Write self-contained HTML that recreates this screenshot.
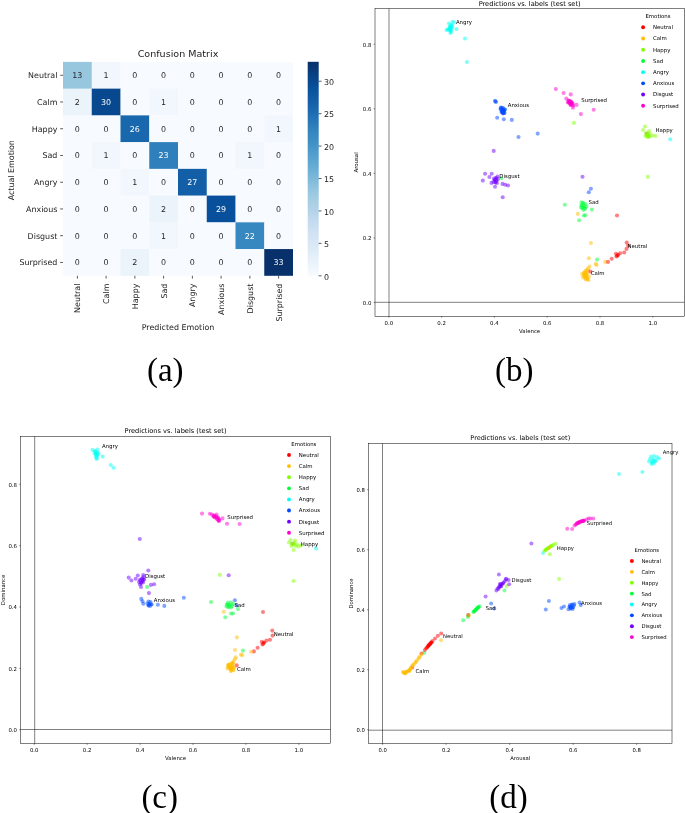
<!DOCTYPE html>
<html><head><meta charset="utf-8"><title>Figure</title>
<style>
html,body{margin:0;padding:0;background:#fff;}
body{width:685px;height:813px;overflow:hidden;}
svg{display:block;}
svg text{font-family:'DejaVu Sans', 'Liberation Sans', sans-serif;}
</style></head><body>
<svg width="685" height="813" viewBox="0 0 685 813">
<rect width="685" height="813" fill="#fff"/>
<g id="cm">
<rect x="63" y="61.9" width="29.05" height="27.04" fill="#97c6df"/>
<rect x="91.75" y="61.9" width="29.05" height="27.04" fill="#f2f7fd"/>
<rect x="120.5" y="61.9" width="29.05" height="27.04" fill="#f7fbff"/>
<rect x="149.25" y="61.9" width="29.05" height="27.04" fill="#f7fbff"/>
<rect x="178" y="61.9" width="29.05" height="27.04" fill="#f7fbff"/>
<rect x="206.75" y="61.9" width="29.05" height="27.04" fill="#f7fbff"/>
<rect x="235.5" y="61.9" width="29.05" height="27.04" fill="#f7fbff"/>
<rect x="264.25" y="61.9" width="28.75" height="27.04" fill="#f7fbff"/>
<rect x="63" y="88.64" width="29.05" height="27.04" fill="#ebf3fb"/>
<rect x="91.75" y="88.64" width="29.05" height="27.04" fill="#08488e"/>
<rect x="120.5" y="88.64" width="29.05" height="27.04" fill="#f7fbff"/>
<rect x="149.25" y="88.64" width="29.05" height="27.04" fill="#f2f7fd"/>
<rect x="178" y="88.64" width="29.05" height="27.04" fill="#f7fbff"/>
<rect x="206.75" y="88.64" width="29.05" height="27.04" fill="#f7fbff"/>
<rect x="235.5" y="88.64" width="29.05" height="27.04" fill="#f7fbff"/>
<rect x="264.25" y="88.64" width="28.75" height="27.04" fill="#f7fbff"/>
<rect x="63" y="115.38" width="29.05" height="27.04" fill="#f7fbff"/>
<rect x="91.75" y="115.38" width="29.05" height="27.04" fill="#f7fbff"/>
<rect x="120.5" y="115.38" width="29.05" height="27.04" fill="#1967ad"/>
<rect x="149.25" y="115.38" width="29.05" height="27.04" fill="#f7fbff"/>
<rect x="178" y="115.38" width="29.05" height="27.04" fill="#f7fbff"/>
<rect x="206.75" y="115.38" width="29.05" height="27.04" fill="#f7fbff"/>
<rect x="235.5" y="115.38" width="29.05" height="27.04" fill="#f7fbff"/>
<rect x="264.25" y="115.38" width="28.75" height="27.04" fill="#f2f7fd"/>
<rect x="63" y="142.11" width="29.05" height="27.04" fill="#f7fbff"/>
<rect x="91.75" y="142.11" width="29.05" height="27.04" fill="#f2f7fd"/>
<rect x="120.5" y="142.11" width="29.05" height="27.04" fill="#f7fbff"/>
<rect x="149.25" y="142.11" width="29.05" height="27.04" fill="#2f7fbc"/>
<rect x="178" y="142.11" width="29.05" height="27.04" fill="#f7fbff"/>
<rect x="206.75" y="142.11" width="29.05" height="27.04" fill="#f7fbff"/>
<rect x="235.5" y="142.11" width="29.05" height="27.04" fill="#f2f7fd"/>
<rect x="264.25" y="142.11" width="28.75" height="27.04" fill="#f7fbff"/>
<rect x="63" y="168.85" width="29.05" height="27.04" fill="#f7fbff"/>
<rect x="91.75" y="168.85" width="29.05" height="27.04" fill="#f7fbff"/>
<rect x="120.5" y="168.85" width="29.05" height="27.04" fill="#f2f7fd"/>
<rect x="149.25" y="168.85" width="29.05" height="27.04" fill="#f7fbff"/>
<rect x="178" y="168.85" width="29.05" height="27.04" fill="#135fa7"/>
<rect x="206.75" y="168.85" width="29.05" height="27.04" fill="#f7fbff"/>
<rect x="235.5" y="168.85" width="29.05" height="27.04" fill="#f7fbff"/>
<rect x="264.25" y="168.85" width="28.75" height="27.04" fill="#f7fbff"/>
<rect x="63" y="195.59" width="29.05" height="27.04" fill="#f7fbff"/>
<rect x="91.75" y="195.59" width="29.05" height="27.04" fill="#f7fbff"/>
<rect x="120.5" y="195.59" width="29.05" height="27.04" fill="#f7fbff"/>
<rect x="149.25" y="195.59" width="29.05" height="27.04" fill="#ebf3fb"/>
<rect x="178" y="195.59" width="29.05" height="27.04" fill="#f7fbff"/>
<rect x="206.75" y="195.59" width="29.05" height="27.04" fill="#08509b"/>
<rect x="235.5" y="195.59" width="29.05" height="27.04" fill="#f7fbff"/>
<rect x="264.25" y="195.59" width="28.75" height="27.04" fill="#f7fbff"/>
<rect x="63" y="222.33" width="29.05" height="27.04" fill="#f7fbff"/>
<rect x="91.75" y="222.33" width="29.05" height="27.04" fill="#f7fbff"/>
<rect x="120.5" y="222.33" width="29.05" height="27.04" fill="#f7fbff"/>
<rect x="149.25" y="222.33" width="29.05" height="27.04" fill="#f2f7fd"/>
<rect x="178" y="222.33" width="29.05" height="27.04" fill="#f7fbff"/>
<rect x="206.75" y="222.33" width="29.05" height="27.04" fill="#f7fbff"/>
<rect x="235.5" y="222.33" width="29.05" height="27.04" fill="#3787c0"/>
<rect x="264.25" y="222.33" width="28.75" height="27.04" fill="#f7fbff"/>
<rect x="63" y="249.06" width="29.05" height="26.74" fill="#f7fbff"/>
<rect x="91.75" y="249.06" width="29.05" height="26.74" fill="#f7fbff"/>
<rect x="120.5" y="249.06" width="29.05" height="26.74" fill="#ebf3fb"/>
<rect x="149.25" y="249.06" width="29.05" height="26.74" fill="#f7fbff"/>
<rect x="178" y="249.06" width="29.05" height="26.74" fill="#f7fbff"/>
<rect x="206.75" y="249.06" width="29.05" height="26.74" fill="#f7fbff"/>
<rect x="235.5" y="249.06" width="29.05" height="26.74" fill="#f7fbff"/>
<rect x="264.25" y="249.06" width="28.75" height="26.74" fill="#08306b"/>
<text x="77.38" y="78.17" fill="#262626" font-size="7.95" text-anchor="middle">13</text>
<text x="106.12" y="78.17" fill="#262626" font-size="7.95" text-anchor="middle">1</text>
<text x="134.88" y="78.17" fill="#262626" font-size="7.95" text-anchor="middle">0</text>
<text x="163.62" y="78.17" fill="#262626" font-size="7.95" text-anchor="middle">0</text>
<text x="192.38" y="78.17" fill="#262626" font-size="7.95" text-anchor="middle">0</text>
<text x="221.12" y="78.17" fill="#262626" font-size="7.95" text-anchor="middle">0</text>
<text x="249.88" y="78.17" fill="#262626" font-size="7.95" text-anchor="middle">0</text>
<text x="278.62" y="78.17" fill="#262626" font-size="7.95" text-anchor="middle">0</text>
<text x="77.38" y="104.91" fill="#262626" font-size="7.95" text-anchor="middle">2</text>
<text x="106.12" y="104.91" fill="#ffffff" font-size="7.95" text-anchor="middle">30</text>
<text x="134.88" y="104.91" fill="#262626" font-size="7.95" text-anchor="middle">0</text>
<text x="163.62" y="104.91" fill="#262626" font-size="7.95" text-anchor="middle">1</text>
<text x="192.38" y="104.91" fill="#262626" font-size="7.95" text-anchor="middle">0</text>
<text x="221.12" y="104.91" fill="#262626" font-size="7.95" text-anchor="middle">0</text>
<text x="249.88" y="104.91" fill="#262626" font-size="7.95" text-anchor="middle">0</text>
<text x="278.62" y="104.91" fill="#262626" font-size="7.95" text-anchor="middle">0</text>
<text x="77.38" y="131.64" fill="#262626" font-size="7.95" text-anchor="middle">0</text>
<text x="106.12" y="131.64" fill="#262626" font-size="7.95" text-anchor="middle">0</text>
<text x="134.88" y="131.64" fill="#ffffff" font-size="7.95" text-anchor="middle">26</text>
<text x="163.62" y="131.64" fill="#262626" font-size="7.95" text-anchor="middle">0</text>
<text x="192.38" y="131.64" fill="#262626" font-size="7.95" text-anchor="middle">0</text>
<text x="221.12" y="131.64" fill="#262626" font-size="7.95" text-anchor="middle">0</text>
<text x="249.88" y="131.64" fill="#262626" font-size="7.95" text-anchor="middle">0</text>
<text x="278.62" y="131.64" fill="#262626" font-size="7.95" text-anchor="middle">1</text>
<text x="77.38" y="158.38" fill="#262626" font-size="7.95" text-anchor="middle">0</text>
<text x="106.12" y="158.38" fill="#262626" font-size="7.95" text-anchor="middle">1</text>
<text x="134.88" y="158.38" fill="#262626" font-size="7.95" text-anchor="middle">0</text>
<text x="163.62" y="158.38" fill="#ffffff" font-size="7.95" text-anchor="middle">23</text>
<text x="192.38" y="158.38" fill="#262626" font-size="7.95" text-anchor="middle">0</text>
<text x="221.12" y="158.38" fill="#262626" font-size="7.95" text-anchor="middle">0</text>
<text x="249.88" y="158.38" fill="#262626" font-size="7.95" text-anchor="middle">1</text>
<text x="278.62" y="158.38" fill="#262626" font-size="7.95" text-anchor="middle">0</text>
<text x="77.38" y="185.12" fill="#262626" font-size="7.95" text-anchor="middle">0</text>
<text x="106.12" y="185.12" fill="#262626" font-size="7.95" text-anchor="middle">0</text>
<text x="134.88" y="185.12" fill="#262626" font-size="7.95" text-anchor="middle">1</text>
<text x="163.62" y="185.12" fill="#262626" font-size="7.95" text-anchor="middle">0</text>
<text x="192.38" y="185.12" fill="#ffffff" font-size="7.95" text-anchor="middle">27</text>
<text x="221.12" y="185.12" fill="#262626" font-size="7.95" text-anchor="middle">0</text>
<text x="249.88" y="185.12" fill="#262626" font-size="7.95" text-anchor="middle">0</text>
<text x="278.62" y="185.12" fill="#262626" font-size="7.95" text-anchor="middle">0</text>
<text x="77.38" y="211.86" fill="#262626" font-size="7.95" text-anchor="middle">0</text>
<text x="106.12" y="211.86" fill="#262626" font-size="7.95" text-anchor="middle">0</text>
<text x="134.88" y="211.86" fill="#262626" font-size="7.95" text-anchor="middle">0</text>
<text x="163.62" y="211.86" fill="#262626" font-size="7.95" text-anchor="middle">2</text>
<text x="192.38" y="211.86" fill="#262626" font-size="7.95" text-anchor="middle">0</text>
<text x="221.12" y="211.86" fill="#ffffff" font-size="7.95" text-anchor="middle">29</text>
<text x="249.88" y="211.86" fill="#262626" font-size="7.95" text-anchor="middle">0</text>
<text x="278.62" y="211.86" fill="#262626" font-size="7.95" text-anchor="middle">0</text>
<text x="77.38" y="238.59" fill="#262626" font-size="7.95" text-anchor="middle">0</text>
<text x="106.12" y="238.59" fill="#262626" font-size="7.95" text-anchor="middle">0</text>
<text x="134.88" y="238.59" fill="#262626" font-size="7.95" text-anchor="middle">0</text>
<text x="163.62" y="238.59" fill="#262626" font-size="7.95" text-anchor="middle">1</text>
<text x="192.38" y="238.59" fill="#262626" font-size="7.95" text-anchor="middle">0</text>
<text x="221.12" y="238.59" fill="#262626" font-size="7.95" text-anchor="middle">0</text>
<text x="249.88" y="238.59" fill="#ffffff" font-size="7.95" text-anchor="middle">22</text>
<text x="278.62" y="238.59" fill="#262626" font-size="7.95" text-anchor="middle">0</text>
<text x="77.38" y="265.33" fill="#262626" font-size="7.95" text-anchor="middle">0</text>
<text x="106.12" y="265.33" fill="#262626" font-size="7.95" text-anchor="middle">0</text>
<text x="134.88" y="265.33" fill="#262626" font-size="7.95" text-anchor="middle">2</text>
<text x="163.62" y="265.33" fill="#262626" font-size="7.95" text-anchor="middle">0</text>
<text x="192.38" y="265.33" fill="#262626" font-size="7.95" text-anchor="middle">0</text>
<text x="221.12" y="265.33" fill="#262626" font-size="7.95" text-anchor="middle">0</text>
<text x="249.88" y="265.33" fill="#262626" font-size="7.95" text-anchor="middle">0</text>
<text x="278.62" y="265.33" fill="#ffffff" font-size="7.95" text-anchor="middle">33</text>
<line x1="60.2" y1="75.27" x2="63" y2="75.27" stroke="#000" stroke-width="0.65"/>
<text x="57.4" y="78.17" fill="#1a1a1a" font-size="7.95" text-anchor="end">Neutral</text>
<line x1="60.2" y1="102.01" x2="63" y2="102.01" stroke="#000" stroke-width="0.65"/>
<text x="57.4" y="104.91" fill="#1a1a1a" font-size="7.95" text-anchor="end">Calm</text>
<line x1="60.2" y1="128.74" x2="63" y2="128.74" stroke="#000" stroke-width="0.65"/>
<text x="57.4" y="131.64" fill="#1a1a1a" font-size="7.95" text-anchor="end">Happy</text>
<line x1="60.2" y1="155.48" x2="63" y2="155.48" stroke="#000" stroke-width="0.65"/>
<text x="57.4" y="158.38" fill="#1a1a1a" font-size="7.95" text-anchor="end">Sad</text>
<line x1="60.2" y1="182.22" x2="63" y2="182.22" stroke="#000" stroke-width="0.65"/>
<text x="57.4" y="185.12" fill="#1a1a1a" font-size="7.95" text-anchor="end">Angry</text>
<line x1="60.2" y1="208.96" x2="63" y2="208.96" stroke="#000" stroke-width="0.65"/>
<text x="57.4" y="211.86" fill="#1a1a1a" font-size="7.95" text-anchor="end">Anxious</text>
<line x1="60.2" y1="235.69" x2="63" y2="235.69" stroke="#000" stroke-width="0.65"/>
<text x="57.4" y="238.59" fill="#1a1a1a" font-size="7.95" text-anchor="end">Disgust</text>
<line x1="60.2" y1="262.43" x2="63" y2="262.43" stroke="#000" stroke-width="0.65"/>
<text x="57.4" y="265.33" fill="#1a1a1a" font-size="7.95" text-anchor="end">Surprised</text>
<line x1="77.38" y1="275.8" x2="77.38" y2="278.6" stroke="#000" stroke-width="0.65"/>
<text transform="translate(80.28,283.6) rotate(-90)" x="0" y="0" fill="#1a1a1a" font-size="7.95" text-anchor="end">Neutral</text>
<line x1="106.12" y1="275.8" x2="106.12" y2="278.6" stroke="#000" stroke-width="0.65"/>
<text transform="translate(109.03,283.6) rotate(-90)" x="0" y="0" fill="#1a1a1a" font-size="7.95" text-anchor="end">Calm</text>
<line x1="134.88" y1="275.8" x2="134.88" y2="278.6" stroke="#000" stroke-width="0.65"/>
<text transform="translate(137.78,283.6) rotate(-90)" x="0" y="0" fill="#1a1a1a" font-size="7.95" text-anchor="end">Happy</text>
<line x1="163.62" y1="275.8" x2="163.62" y2="278.6" stroke="#000" stroke-width="0.65"/>
<text transform="translate(166.53,283.6) rotate(-90)" x="0" y="0" fill="#1a1a1a" font-size="7.95" text-anchor="end">Sad</text>
<line x1="192.38" y1="275.8" x2="192.38" y2="278.6" stroke="#000" stroke-width="0.65"/>
<text transform="translate(195.28,283.6) rotate(-90)" x="0" y="0" fill="#1a1a1a" font-size="7.95" text-anchor="end">Angry</text>
<line x1="221.12" y1="275.8" x2="221.12" y2="278.6" stroke="#000" stroke-width="0.65"/>
<text transform="translate(224.03,283.6) rotate(-90)" x="0" y="0" fill="#1a1a1a" font-size="7.95" text-anchor="end">Anxious</text>
<line x1="249.88" y1="275.8" x2="249.88" y2="278.6" stroke="#000" stroke-width="0.65"/>
<text transform="translate(252.78,283.6) rotate(-90)" x="0" y="0" fill="#1a1a1a" font-size="7.95" text-anchor="end">Disgust</text>
<line x1="278.62" y1="275.8" x2="278.62" y2="278.6" stroke="#000" stroke-width="0.65"/>
<text transform="translate(281.52,283.6) rotate(-90)" x="0" y="0" fill="#1a1a1a" font-size="7.95" text-anchor="end">Surprised</text>
<text x="178" y="56.9" fill="#1a1a1a" font-size="9.55" text-anchor="middle">Confusion Matrix</text>
<text x="178" y="329.9" fill="#1a1a1a" font-size="7.95" text-anchor="middle">Predicted Emotion</text>
<text transform="translate(13.9,170.2) rotate(-90)" fill="#1a1a1a" font-size="7.95" text-anchor="middle">Actual Emotion</text>
<defs><linearGradient id="cb" x1="0" y1="0" x2="0" y2="1"><stop offset="0" stop-color="#08306b"/><stop offset="0.06" stop-color="#084082"/><stop offset="0.12" stop-color="#08509b"/><stop offset="0.19" stop-color="#1460a8"/><stop offset="0.25" stop-color="#2070b4"/><stop offset="0.31" stop-color="#3181bd"/><stop offset="0.38" stop-color="#4191c6"/><stop offset="0.44" stop-color="#56a0ce"/><stop offset="0.5" stop-color="#6aaed6"/><stop offset="0.56" stop-color="#84bcdb"/><stop offset="0.62" stop-color="#9dcae1"/><stop offset="0.69" stop-color="#b2d2e8"/><stop offset="0.75" stop-color="#c6dbef"/><stop offset="0.81" stop-color="#d2e3f3"/><stop offset="0.88" stop-color="#deebf7"/><stop offset="0.94" stop-color="#eaf3fb"/><stop offset="1" stop-color="#f7fbff"/></linearGradient></defs>
<rect x="307.7" y="61.8" width="11" height="214" fill="url(#cb)"/>
<line x1="318.7" y1="275.8" x2="321.5" y2="275.8" stroke="#000" stroke-width="0.65"/>
<text x="323.9" y="279.5" fill="#1a1a1a" font-size="7.95">0</text>
<line x1="318.7" y1="243.38" x2="321.5" y2="243.38" stroke="#000" stroke-width="0.65"/>
<text x="323.9" y="247.08" fill="#1a1a1a" font-size="7.95">5</text>
<line x1="318.7" y1="210.95" x2="321.5" y2="210.95" stroke="#000" stroke-width="0.65"/>
<text x="323.9" y="214.65" fill="#1a1a1a" font-size="7.95">10</text>
<line x1="318.7" y1="178.53" x2="321.5" y2="178.53" stroke="#000" stroke-width="0.65"/>
<text x="323.9" y="182.23" fill="#1a1a1a" font-size="7.95">15</text>
<line x1="318.7" y1="146.1" x2="321.5" y2="146.1" stroke="#000" stroke-width="0.65"/>
<text x="323.9" y="149.8" fill="#1a1a1a" font-size="7.95">20</text>
<line x1="318.7" y1="113.68" x2="321.5" y2="113.68" stroke="#000" stroke-width="0.65"/>
<text x="323.9" y="117.38" fill="#1a1a1a" font-size="7.95">25</text>
<line x1="318.7" y1="81.25" x2="321.5" y2="81.25" stroke="#000" stroke-width="0.65"/>
<text x="323.9" y="84.95" fill="#1a1a1a" font-size="7.95">30</text>
</g>
<g>
<line x1="389" y1="8.5" x2="389" y2="316.3" stroke="#000" stroke-width="0.5"/>
<line x1="375" y1="302.3" x2="684.3" y2="302.3" stroke="#000" stroke-width="0.5"/>
<circle cx="452.5" cy="21.8" r="2.05" fill="#00fff6" fill-opacity="0.5"/>
<circle cx="454" cy="22.5" r="2.05" fill="#00fff6" fill-opacity="0.5"/>
<circle cx="449" cy="23.5" r="2.05" fill="#00fff6" fill-opacity="0.5"/>
<circle cx="451" cy="25" r="2.05" fill="#00fff6" fill-opacity="0.5"/>
<circle cx="449.5" cy="27" r="2.05" fill="#00fff6" fill-opacity="0.5"/>
<circle cx="451.5" cy="28" r="2.05" fill="#00fff6" fill-opacity="0.5"/>
<circle cx="448" cy="29.5" r="2.05" fill="#00fff6" fill-opacity="0.5"/>
<circle cx="446.5" cy="30" r="2.05" fill="#00fff6" fill-opacity="0.5"/>
<circle cx="450" cy="30.5" r="2.05" fill="#00fff6" fill-opacity="0.5"/>
<circle cx="451" cy="32" r="2.05" fill="#00fff6" fill-opacity="0.5"/>
<circle cx="450.5" cy="33" r="2.05" fill="#00fff6" fill-opacity="0.5"/>
<circle cx="452" cy="26" r="2.05" fill="#00fff6" fill-opacity="0.5"/>
<circle cx="449.5" cy="29" r="2.05" fill="#00fff6" fill-opacity="0.5"/>
<circle cx="450.5" cy="28" r="2.05" fill="#00fff6" fill-opacity="0.5"/>
<circle cx="451" cy="30" r="2.05" fill="#00fff6" fill-opacity="0.5"/>
<circle cx="456.5" cy="29.1" r="2.05" fill="#00fff6" fill-opacity="0.5"/>
<circle cx="465" cy="38.5" r="2.05" fill="#00fff6" fill-opacity="0.5"/>
<circle cx="466.9" cy="62.1" r="2.05" fill="#00fff6" fill-opacity="0.5"/>
<circle cx="451" cy="25" r="1.64" fill="#00fff6" fill-opacity="0.5"/>
<circle cx="449.5" cy="27" r="1.64" fill="#00fff6" fill-opacity="0.5"/>
<circle cx="451.5" cy="28" r="1.64" fill="#00fff6" fill-opacity="0.5"/>
<circle cx="448" cy="29.5" r="1.64" fill="#00fff6" fill-opacity="0.5"/>
<circle cx="450" cy="30.5" r="1.64" fill="#00fff6" fill-opacity="0.5"/>
<circle cx="452" cy="26" r="1.64" fill="#00fff6" fill-opacity="0.5"/>
<circle cx="449.5" cy="29" r="1.64" fill="#00fff6" fill-opacity="0.5"/>
<circle cx="450.5" cy="28" r="1.64" fill="#00fff6" fill-opacity="0.5"/>
<circle cx="451" cy="30" r="1.64" fill="#00fff6" fill-opacity="0.5"/>
<circle cx="495" cy="100.8" r="2.05" fill="#004bff" fill-opacity="0.5"/>
<circle cx="496" cy="102" r="2.05" fill="#004bff" fill-opacity="0.5"/>
<circle cx="501" cy="107.5" r="2.05" fill="#004bff" fill-opacity="0.5"/>
<circle cx="503" cy="108" r="2.05" fill="#004bff" fill-opacity="0.5"/>
<circle cx="505" cy="109.5" r="2.05" fill="#004bff" fill-opacity="0.5"/>
<circle cx="502" cy="110.5" r="2.05" fill="#004bff" fill-opacity="0.5"/>
<circle cx="504" cy="111" r="2.05" fill="#004bff" fill-opacity="0.5"/>
<circle cx="503" cy="112.5" r="2.05" fill="#004bff" fill-opacity="0.5"/>
<circle cx="501.5" cy="112" r="2.05" fill="#004bff" fill-opacity="0.5"/>
<circle cx="504.5" cy="113" r="2.05" fill="#004bff" fill-opacity="0.5"/>
<circle cx="503" cy="113.5" r="2.05" fill="#004bff" fill-opacity="0.5"/>
<circle cx="500.5" cy="109" r="2.05" fill="#004bff" fill-opacity="0.5"/>
<circle cx="502.5" cy="109.5" r="2.05" fill="#004bff" fill-opacity="0.5"/>
<circle cx="503.5" cy="110.5" r="2.05" fill="#004bff" fill-opacity="0.5"/>
<circle cx="502.5" cy="111.5" r="2.05" fill="#004bff" fill-opacity="0.5"/>
<circle cx="495.5" cy="101.5" r="2.05" fill="#004bff" fill-opacity="0.5"/>
<circle cx="497.2" cy="117.7" r="2.05" fill="#004bff" fill-opacity="0.5"/>
<circle cx="503.8" cy="119.2" r="2.05" fill="#004bff" fill-opacity="0.5"/>
<circle cx="511.8" cy="119.9" r="2.05" fill="#004bff" fill-opacity="0.5"/>
<circle cx="518.5" cy="137" r="2.05" fill="#004bff" fill-opacity="0.5"/>
<circle cx="537.7" cy="133.6" r="2.05" fill="#004bff" fill-opacity="0.5"/>
<circle cx="501" cy="107.5" r="1.64" fill="#004bff" fill-opacity="0.5"/>
<circle cx="503" cy="108" r="1.64" fill="#004bff" fill-opacity="0.5"/>
<circle cx="505" cy="109.5" r="1.64" fill="#004bff" fill-opacity="0.5"/>
<circle cx="502" cy="110.5" r="1.64" fill="#004bff" fill-opacity="0.5"/>
<circle cx="504" cy="111" r="1.64" fill="#004bff" fill-opacity="0.5"/>
<circle cx="503" cy="112.5" r="1.64" fill="#004bff" fill-opacity="0.5"/>
<circle cx="501.5" cy="112" r="1.64" fill="#004bff" fill-opacity="0.5"/>
<circle cx="504.5" cy="113" r="1.64" fill="#004bff" fill-opacity="0.5"/>
<circle cx="503" cy="113.5" r="1.64" fill="#004bff" fill-opacity="0.5"/>
<circle cx="500.5" cy="109" r="1.64" fill="#004bff" fill-opacity="0.5"/>
<circle cx="502.5" cy="109.5" r="1.64" fill="#004bff" fill-opacity="0.5"/>
<circle cx="503.5" cy="110.5" r="1.64" fill="#004bff" fill-opacity="0.5"/>
<circle cx="502.5" cy="111.5" r="1.64" fill="#004bff" fill-opacity="0.5"/>
<circle cx="555.8" cy="89" r="2.05" fill="#ff00cf" fill-opacity="0.5"/>
<circle cx="563.6" cy="93" r="2.05" fill="#ff00cf" fill-opacity="0.5"/>
<circle cx="570.7" cy="94.4" r="2.05" fill="#ff00cf" fill-opacity="0.5"/>
<circle cx="566.3" cy="98.6" r="2.05" fill="#ff00cf" fill-opacity="0.5"/>
<circle cx="576.5" cy="104.9" r="2.05" fill="#ff00cf" fill-opacity="0.5"/>
<circle cx="573" cy="107.8" r="2.05" fill="#ff00cf" fill-opacity="0.5"/>
<circle cx="580.9" cy="114.1" r="2.05" fill="#ff00cf" fill-opacity="0.5"/>
<circle cx="593.7" cy="109.7" r="2.05" fill="#ff00cf" fill-opacity="0.5"/>
<circle cx="568.5" cy="100.5" r="2.05" fill="#ff00cf" fill-opacity="0.5"/>
<circle cx="570" cy="101" r="2.05" fill="#ff00cf" fill-opacity="0.5"/>
<circle cx="571.5" cy="102" r="2.05" fill="#ff00cf" fill-opacity="0.5"/>
<circle cx="569.5" cy="103" r="2.05" fill="#ff00cf" fill-opacity="0.5"/>
<circle cx="571" cy="104" r="2.05" fill="#ff00cf" fill-opacity="0.5"/>
<circle cx="572.5" cy="103.5" r="2.05" fill="#ff00cf" fill-opacity="0.5"/>
<circle cx="570.5" cy="105" r="2.05" fill="#ff00cf" fill-opacity="0.5"/>
<circle cx="568" cy="102.5" r="2.05" fill="#ff00cf" fill-opacity="0.5"/>
<circle cx="573" cy="105.5" r="2.05" fill="#ff00cf" fill-opacity="0.5"/>
<circle cx="570" cy="102.5" r="2.05" fill="#ff00cf" fill-opacity="0.5"/>
<circle cx="571" cy="103" r="2.05" fill="#ff00cf" fill-opacity="0.5"/>
<circle cx="569.5" cy="101.5" r="2.05" fill="#ff00cf" fill-opacity="0.5"/>
<circle cx="646.7" cy="133.7" r="2.05" fill="#ff00cf" fill-opacity="0.5"/>
<circle cx="568.5" cy="100.5" r="1.64" fill="#ff00cf" fill-opacity="0.5"/>
<circle cx="570" cy="101" r="1.64" fill="#ff00cf" fill-opacity="0.5"/>
<circle cx="571.5" cy="102" r="1.64" fill="#ff00cf" fill-opacity="0.5"/>
<circle cx="569.5" cy="103" r="1.64" fill="#ff00cf" fill-opacity="0.5"/>
<circle cx="571" cy="104" r="1.64" fill="#ff00cf" fill-opacity="0.5"/>
<circle cx="572.5" cy="103.5" r="1.64" fill="#ff00cf" fill-opacity="0.5"/>
<circle cx="570.5" cy="105" r="1.64" fill="#ff00cf" fill-opacity="0.5"/>
<circle cx="568" cy="102.5" r="1.64" fill="#ff00cf" fill-opacity="0.5"/>
<circle cx="573" cy="105.5" r="1.64" fill="#ff00cf" fill-opacity="0.5"/>
<circle cx="570" cy="102.5" r="1.64" fill="#ff00cf" fill-opacity="0.5"/>
<circle cx="571" cy="103" r="1.64" fill="#ff00cf" fill-opacity="0.5"/>
<circle cx="569.5" cy="101.5" r="1.64" fill="#ff00cf" fill-opacity="0.5"/>
<circle cx="645" cy="126.5" r="2.05" fill="#84ff00" fill-opacity="0.5"/>
<circle cx="643" cy="130" r="2.05" fill="#84ff00" fill-opacity="0.5"/>
<circle cx="649" cy="131" r="2.05" fill="#84ff00" fill-opacity="0.5"/>
<circle cx="652.5" cy="135.5" r="2.05" fill="#84ff00" fill-opacity="0.5"/>
<circle cx="655.5" cy="136" r="2.05" fill="#84ff00" fill-opacity="0.5"/>
<circle cx="648" cy="137" r="2.05" fill="#84ff00" fill-opacity="0.5"/>
<circle cx="646" cy="133" r="2.05" fill="#84ff00" fill-opacity="0.5"/>
<circle cx="648" cy="134" r="2.05" fill="#84ff00" fill-opacity="0.5"/>
<circle cx="647" cy="135.5" r="2.05" fill="#84ff00" fill-opacity="0.5"/>
<circle cx="650" cy="133.5" r="2.05" fill="#84ff00" fill-opacity="0.5"/>
<circle cx="645.5" cy="136" r="2.05" fill="#84ff00" fill-opacity="0.5"/>
<circle cx="649.5" cy="136.5" r="2.05" fill="#84ff00" fill-opacity="0.5"/>
<circle cx="647.9" cy="176.9" r="2.05" fill="#84ff00" fill-opacity="0.5"/>
<circle cx="573.9" cy="122.9" r="2.05" fill="#84ff00" fill-opacity="0.5"/>
<circle cx="648" cy="137" r="1.64" fill="#84ff00" fill-opacity="0.5"/>
<circle cx="648" cy="134" r="1.64" fill="#84ff00" fill-opacity="0.5"/>
<circle cx="647" cy="135.5" r="1.64" fill="#84ff00" fill-opacity="0.5"/>
<circle cx="649.5" cy="136.5" r="1.64" fill="#84ff00" fill-opacity="0.5"/>
<circle cx="493.7" cy="150.9" r="2.05" fill="#7200ff" fill-opacity="0.5"/>
<circle cx="485.1" cy="173.7" r="2.05" fill="#7200ff" fill-opacity="0.5"/>
<circle cx="491.7" cy="173.7" r="2.05" fill="#7200ff" fill-opacity="0.5"/>
<circle cx="489.4" cy="177" r="2.05" fill="#7200ff" fill-opacity="0.5"/>
<circle cx="482.8" cy="180.6" r="2.05" fill="#7200ff" fill-opacity="0.5"/>
<circle cx="495" cy="186.7" r="2.05" fill="#7200ff" fill-opacity="0.5"/>
<circle cx="502.5" cy="183.9" r="2.05" fill="#7200ff" fill-opacity="0.5"/>
<circle cx="505.3" cy="184.7" r="2.05" fill="#7200ff" fill-opacity="0.5"/>
<circle cx="508" cy="185.5" r="2.05" fill="#7200ff" fill-opacity="0.5"/>
<circle cx="502.7" cy="197.2" r="2.05" fill="#7200ff" fill-opacity="0.5"/>
<circle cx="491.5" cy="182.9" r="2.05" fill="#7200ff" fill-opacity="0.5"/>
<circle cx="497.5" cy="176.5" r="2.05" fill="#7200ff" fill-opacity="0.5"/>
<circle cx="496" cy="178" r="2.05" fill="#7200ff" fill-opacity="0.5"/>
<circle cx="494.5" cy="180" r="2.05" fill="#7200ff" fill-opacity="0.5"/>
<circle cx="496.5" cy="180.5" r="2.05" fill="#7200ff" fill-opacity="0.5"/>
<circle cx="498" cy="179" r="2.05" fill="#7200ff" fill-opacity="0.5"/>
<circle cx="493.5" cy="182" r="2.05" fill="#7200ff" fill-opacity="0.5"/>
<circle cx="495.5" cy="182.5" r="2.05" fill="#7200ff" fill-opacity="0.5"/>
<circle cx="497" cy="183" r="2.05" fill="#7200ff" fill-opacity="0.5"/>
<circle cx="494" cy="178.5" r="2.05" fill="#7200ff" fill-opacity="0.5"/>
<circle cx="582.5" cy="176.7" r="2.05" fill="#7200ff" fill-opacity="0.5"/>
<circle cx="496" cy="178" r="1.64" fill="#7200ff" fill-opacity="0.5"/>
<circle cx="494.5" cy="180" r="1.64" fill="#7200ff" fill-opacity="0.5"/>
<circle cx="496.5" cy="180.5" r="1.64" fill="#7200ff" fill-opacity="0.5"/>
<circle cx="495.5" cy="182.5" r="1.64" fill="#7200ff" fill-opacity="0.5"/>
<circle cx="583" cy="203" r="2.05" fill="#00ff39" fill-opacity="0.5"/>
<circle cx="585.5" cy="204" r="2.05" fill="#00ff39" fill-opacity="0.5"/>
<circle cx="581.5" cy="205.5" r="2.05" fill="#00ff39" fill-opacity="0.5"/>
<circle cx="584" cy="206" r="2.05" fill="#00ff39" fill-opacity="0.5"/>
<circle cx="586.5" cy="206.5" r="2.05" fill="#00ff39" fill-opacity="0.5"/>
<circle cx="582.5" cy="208" r="2.05" fill="#00ff39" fill-opacity="0.5"/>
<circle cx="585" cy="208.5" r="2.05" fill="#00ff39" fill-opacity="0.5"/>
<circle cx="583.5" cy="210" r="2.05" fill="#00ff39" fill-opacity="0.5"/>
<circle cx="581" cy="207.5" r="2.05" fill="#00ff39" fill-opacity="0.5"/>
<circle cx="564.8" cy="204.7" r="2.05" fill="#00ff39" fill-opacity="0.5"/>
<circle cx="591.9" cy="209.6" r="2.05" fill="#00ff39" fill-opacity="0.5"/>
<circle cx="585.3" cy="215.2" r="2.05" fill="#00ff39" fill-opacity="0.5"/>
<circle cx="584" cy="215.5" r="2.05" fill="#00ff39" fill-opacity="0.5"/>
<circle cx="579.1" cy="220.3" r="2.05" fill="#00ff39" fill-opacity="0.5"/>
<circle cx="581.5" cy="202.4" r="2.05" fill="#00ff39" fill-opacity="0.5"/>
<circle cx="501.2" cy="178.3" r="2.05" fill="#00ff39" fill-opacity="0.5"/>
<circle cx="597.1" cy="259.6" r="2.05" fill="#00ff39" fill-opacity="0.5"/>
<circle cx="583" cy="203" r="1.64" fill="#00ff39" fill-opacity="0.5"/>
<circle cx="581.5" cy="205.5" r="1.64" fill="#00ff39" fill-opacity="0.5"/>
<circle cx="584" cy="206" r="1.64" fill="#00ff39" fill-opacity="0.5"/>
<circle cx="582.5" cy="208" r="1.64" fill="#00ff39" fill-opacity="0.5"/>
<circle cx="585" cy="208.5" r="1.64" fill="#00ff39" fill-opacity="0.5"/>
<circle cx="590.9" cy="243" r="2.05" fill="#ffbd00" fill-opacity="0.5"/>
<circle cx="588.9" cy="258.3" r="2.05" fill="#ffbd00" fill-opacity="0.5"/>
<circle cx="595.8" cy="263.9" r="2.05" fill="#ffbd00" fill-opacity="0.5"/>
<circle cx="596.5" cy="265" r="2.05" fill="#ffbd00" fill-opacity="0.5"/>
<circle cx="605.3" cy="261.9" r="2.05" fill="#ffbd00" fill-opacity="0.5"/>
<circle cx="589.5" cy="266.5" r="2.05" fill="#ffbd00" fill-opacity="0.5"/>
<circle cx="588" cy="268.5" r="2.05" fill="#ffbd00" fill-opacity="0.5"/>
<circle cx="586" cy="270.5" r="2.05" fill="#ffbd00" fill-opacity="0.5"/>
<circle cx="584" cy="272.5" r="2.05" fill="#ffbd00" fill-opacity="0.5"/>
<circle cx="582" cy="274" r="2.05" fill="#ffbd00" fill-opacity="0.5"/>
<circle cx="584" cy="275" r="2.05" fill="#ffbd00" fill-opacity="0.5"/>
<circle cx="586" cy="276" r="2.05" fill="#ffbd00" fill-opacity="0.5"/>
<circle cx="587" cy="278" r="2.05" fill="#ffbd00" fill-opacity="0.5"/>
<circle cx="588.5" cy="280" r="2.05" fill="#ffbd00" fill-opacity="0.5"/>
<circle cx="585.5" cy="279" r="2.05" fill="#ffbd00" fill-opacity="0.5"/>
<circle cx="583" cy="277.5" r="2.05" fill="#ffbd00" fill-opacity="0.5"/>
<circle cx="587" cy="273" r="2.05" fill="#ffbd00" fill-opacity="0.5"/>
<circle cx="589" cy="276.5" r="2.05" fill="#ffbd00" fill-opacity="0.5"/>
<circle cx="577.8" cy="213.9" r="2.05" fill="#ffbd00" fill-opacity="0.5"/>
<circle cx="585" cy="273.5" r="2.05" fill="#ffbd00" fill-opacity="0.5"/>
<circle cx="586.5" cy="275" r="2.05" fill="#ffbd00" fill-opacity="0.5"/>
<circle cx="584.5" cy="276.5" r="2.05" fill="#ffbd00" fill-opacity="0.5"/>
<circle cx="587.5" cy="279.5" r="2.05" fill="#ffbd00" fill-opacity="0.5"/>
<circle cx="588" cy="270" r="2.05" fill="#ffbd00" fill-opacity="0.5"/>
<circle cx="586" cy="270.5" r="1.64" fill="#ffbd00" fill-opacity="0.5"/>
<circle cx="584" cy="272.5" r="1.64" fill="#ffbd00" fill-opacity="0.5"/>
<circle cx="584" cy="275" r="1.64" fill="#ffbd00" fill-opacity="0.5"/>
<circle cx="586" cy="276" r="1.64" fill="#ffbd00" fill-opacity="0.5"/>
<circle cx="587" cy="278" r="1.64" fill="#ffbd00" fill-opacity="0.5"/>
<circle cx="585.5" cy="279" r="1.64" fill="#ffbd00" fill-opacity="0.5"/>
<circle cx="587" cy="273" r="1.64" fill="#ffbd00" fill-opacity="0.5"/>
<circle cx="585" cy="273.5" r="1.64" fill="#ffbd00" fill-opacity="0.5"/>
<circle cx="586.5" cy="275" r="1.64" fill="#ffbd00" fill-opacity="0.5"/>
<circle cx="584.5" cy="276.5" r="1.64" fill="#ffbd00" fill-opacity="0.5"/>
<circle cx="608" cy="261.9" r="2.05" fill="#ff0000" fill-opacity="0.5"/>
<circle cx="611.7" cy="258.8" r="2.05" fill="#ff0000" fill-opacity="0.5"/>
<circle cx="617" cy="255.8" r="2.05" fill="#ff0000" fill-opacity="0.5"/>
<circle cx="616.5" cy="256.5" r="2.05" fill="#ff0000" fill-opacity="0.5"/>
<circle cx="616" cy="253.7" r="2.05" fill="#ff0000" fill-opacity="0.5"/>
<circle cx="618" cy="255" r="2.05" fill="#ff0000" fill-opacity="0.5"/>
<circle cx="620.1" cy="253.2" r="2.05" fill="#ff0000" fill-opacity="0.5"/>
<circle cx="624.2" cy="252.5" r="2.05" fill="#ff0000" fill-opacity="0.5"/>
<circle cx="626.5" cy="248.9" r="2.05" fill="#ff0000" fill-opacity="0.5"/>
<circle cx="626.7" cy="242.5" r="2.05" fill="#ff0000" fill-opacity="0.5"/>
<circle cx="628.2" cy="245.5" r="2.05" fill="#ff0000" fill-opacity="0.5"/>
<circle cx="617" cy="215.5" r="2.05" fill="#ff0000" fill-opacity="0.5"/>
<circle cx="590.4" cy="271.6" r="2.05" fill="#ff0000" fill-opacity="0.5"/>
<circle cx="618" cy="255" r="1.64" fill="#ff0000" fill-opacity="0.5"/>
<circle cx="590.9" cy="188.8" r="2.05" fill="#004bff" fill-opacity="0.5"/>
<circle cx="588.8" cy="192.2" r="2.05" fill="#004bff" fill-opacity="0.5"/>
<circle cx="670.2" cy="139.3" r="2.05" fill="#00fff6" fill-opacity="0.5"/>
<text x="455.9" y="24.4" font-size="5.4" fill="#000000">Angry</text>
<text x="507.7" y="107.3" font-size="5.4" fill="#000000">Anxious</text>
<text x="581.3" y="102.3" font-size="5.4" fill="#000000">Surprised</text>
<text x="655.4" y="132.3" font-size="5.4" fill="#000000">Happy</text>
<text x="499.3" y="177.8" font-size="5.4" fill="#000000">Disgust</text>
<text x="588.5" y="203.7" font-size="5.4" fill="#000000">Sad</text>
<text x="590.7" y="275.2" font-size="5.4" fill="#000000">Calm</text>
<text x="627.5" y="247.5" font-size="5.4" fill="#000000">Neutral</text>
<rect x="375" y="8.5" width="309.3" height="307.8" fill="none" stroke="#000" stroke-width="0.5"/>
<line x1="388.8" y1="316.3" x2="388.8" y2="317.7" stroke="#000" stroke-width="0.45"/>
<text x="388.8" y="324.5" font-size="5.4" fill="#000000" text-anchor="middle">0.0</text>
<line x1="441.6" y1="316.3" x2="441.6" y2="317.7" stroke="#000" stroke-width="0.45"/>
<text x="441.6" y="324.5" font-size="5.4" fill="#000000" text-anchor="middle">0.2</text>
<line x1="494.4" y1="316.3" x2="494.4" y2="317.7" stroke="#000" stroke-width="0.45"/>
<text x="494.4" y="324.5" font-size="5.4" fill="#000000" text-anchor="middle">0.4</text>
<line x1="547.2" y1="316.3" x2="547.2" y2="317.7" stroke="#000" stroke-width="0.45"/>
<text x="547.2" y="324.5" font-size="5.4" fill="#000000" text-anchor="middle">0.6</text>
<line x1="600" y1="316.3" x2="600" y2="317.7" stroke="#000" stroke-width="0.45"/>
<text x="600" y="324.5" font-size="5.4" fill="#000000" text-anchor="middle">0.8</text>
<line x1="652.8" y1="316.3" x2="652.8" y2="317.7" stroke="#000" stroke-width="0.45"/>
<text x="652.8" y="324.5" font-size="5.4" fill="#000000" text-anchor="middle">1.0</text>
<line x1="373.6" y1="302.6" x2="375" y2="302.6" stroke="#000" stroke-width="0.45"/>
<text x="371.4" y="305" font-size="5.4" fill="#000000" text-anchor="end">0.0</text>
<line x1="373.6" y1="238" x2="375" y2="238" stroke="#000" stroke-width="0.45"/>
<text x="371.4" y="240.4" font-size="5.4" fill="#000000" text-anchor="end">0.2</text>
<line x1="373.6" y1="173.4" x2="375" y2="173.4" stroke="#000" stroke-width="0.45"/>
<text x="371.4" y="175.8" font-size="5.4" fill="#000000" text-anchor="end">0.4</text>
<line x1="373.6" y1="108.8" x2="375" y2="108.8" stroke="#000" stroke-width="0.45"/>
<text x="371.4" y="111.2" font-size="5.4" fill="#000000" text-anchor="end">0.6</text>
<line x1="373.6" y1="44.2" x2="375" y2="44.2" stroke="#000" stroke-width="0.45"/>
<text x="371.4" y="46.6" font-size="5.4" fill="#000000" text-anchor="end">0.8</text>
<text x="529.65" y="333" font-size="5.4" fill="#000000" text-anchor="middle">Valence</text>
<text transform="translate(358,162.4) rotate(-90)" font-size="5.4" fill="#000000" text-anchor="middle">Arousal</text>
<text x="529.65" y="5.7" font-size="6.65" fill="#000000" text-anchor="middle">Predictions vs. labels (test set)</text>
<text x="658" y="18.2" font-size="5.4" fill="#000000" text-anchor="middle">Emotions</text>
<circle cx="643.1" cy="27.3" r="1.95" fill="#ff0000"/>
<text x="653" y="29.2" font-size="5.4" fill="#000000">Neutral</text>
<circle cx="643.1" cy="38.51" r="1.95" fill="#ffbd00"/>
<text x="653" y="40.41" font-size="5.4" fill="#000000">Calm</text>
<circle cx="643.1" cy="49.72" r="1.95" fill="#84ff00"/>
<text x="653" y="51.62" font-size="5.4" fill="#000000">Happy</text>
<circle cx="643.1" cy="60.93" r="1.95" fill="#00ff39"/>
<text x="653" y="62.83" font-size="5.4" fill="#000000">Sad</text>
<circle cx="643.1" cy="72.14" r="1.95" fill="#00fff6"/>
<text x="653" y="74.04" font-size="5.4" fill="#000000">Angry</text>
<circle cx="643.1" cy="83.35" r="1.95" fill="#004bff"/>
<text x="653" y="85.25" font-size="5.4" fill="#000000">Anxious</text>
<circle cx="643.1" cy="94.56" r="1.95" fill="#7200ff"/>
<text x="653" y="96.46" font-size="5.4" fill="#000000">Disgust</text>
<circle cx="643.1" cy="105.77" r="1.95" fill="#ff00cf"/>
<text x="653" y="107.67" font-size="5.4" fill="#000000">Surprised</text>
</g>
<g>
<line x1="34.7" y1="436.3" x2="34.7" y2="743.5" stroke="#000" stroke-width="0.5"/>
<line x1="20.6" y1="729.5" x2="330.5" y2="729.5" stroke="#000" stroke-width="0.5"/>
<circle cx="97.5" cy="449.5" r="2.05" fill="#00fff6" fill-opacity="0.5"/>
<circle cx="95" cy="451" r="2.05" fill="#00fff6" fill-opacity="0.5"/>
<circle cx="97" cy="452.5" r="2.05" fill="#00fff6" fill-opacity="0.5"/>
<circle cx="95.5" cy="454" r="2.05" fill="#00fff6" fill-opacity="0.5"/>
<circle cx="97.5" cy="455" r="2.05" fill="#00fff6" fill-opacity="0.5"/>
<circle cx="96" cy="456.5" r="2.05" fill="#00fff6" fill-opacity="0.5"/>
<circle cx="97" cy="458" r="2.05" fill="#00fff6" fill-opacity="0.5"/>
<circle cx="94.5" cy="453" r="2.05" fill="#00fff6" fill-opacity="0.5"/>
<circle cx="98.5" cy="453.5" r="2.05" fill="#00fff6" fill-opacity="0.5"/>
<circle cx="96.5" cy="459" r="2.05" fill="#00fff6" fill-opacity="0.5"/>
<circle cx="92.5" cy="449.9" r="2.05" fill="#00fff6" fill-opacity="0.5"/>
<circle cx="102.7" cy="456.6" r="2.05" fill="#00fff6" fill-opacity="0.5"/>
<circle cx="110.7" cy="465" r="2.05" fill="#00fff6" fill-opacity="0.5"/>
<circle cx="113.5" cy="467.8" r="2.05" fill="#00fff6" fill-opacity="0.5"/>
<circle cx="316" cy="548.4" r="2.05" fill="#00fff6" fill-opacity="0.5"/>
<circle cx="95" cy="451" r="1.64" fill="#00fff6" fill-opacity="0.5"/>
<circle cx="97" cy="452.5" r="1.64" fill="#00fff6" fill-opacity="0.5"/>
<circle cx="95.5" cy="454" r="1.64" fill="#00fff6" fill-opacity="0.5"/>
<circle cx="97.5" cy="455" r="1.64" fill="#00fff6" fill-opacity="0.5"/>
<circle cx="96" cy="456.5" r="1.64" fill="#00fff6" fill-opacity="0.5"/>
<circle cx="202" cy="513.6" r="2.05" fill="#ff00cf" fill-opacity="0.5"/>
<circle cx="209.9" cy="513.8" r="2.05" fill="#ff00cf" fill-opacity="0.5"/>
<circle cx="227" cy="523.8" r="2.05" fill="#ff00cf" fill-opacity="0.5"/>
<circle cx="239.6" cy="524" r="2.05" fill="#ff00cf" fill-opacity="0.5"/>
<circle cx="222.5" cy="518.4" r="2.05" fill="#ff00cf" fill-opacity="0.5"/>
<circle cx="219.1" cy="521.3" r="2.05" fill="#ff00cf" fill-opacity="0.5"/>
<circle cx="212" cy="514.5" r="2.05" fill="#ff00cf" fill-opacity="0.5"/>
<circle cx="214" cy="515.5" r="2.05" fill="#ff00cf" fill-opacity="0.5"/>
<circle cx="216" cy="516.5" r="2.05" fill="#ff00cf" fill-opacity="0.5"/>
<circle cx="218" cy="517.5" r="2.05" fill="#ff00cf" fill-opacity="0.5"/>
<circle cx="215" cy="517.5" r="2.05" fill="#ff00cf" fill-opacity="0.5"/>
<circle cx="217" cy="519" r="2.05" fill="#ff00cf" fill-opacity="0.5"/>
<circle cx="219" cy="519.5" r="2.05" fill="#ff00cf" fill-opacity="0.5"/>
<circle cx="213.5" cy="516.5" r="2.05" fill="#ff00cf" fill-opacity="0.5"/>
<circle cx="216.5" cy="514.5" r="2.05" fill="#ff00cf" fill-opacity="0.5"/>
<circle cx="218.5" cy="520.5" r="2.05" fill="#ff00cf" fill-opacity="0.5"/>
<circle cx="292.6" cy="543.7" r="2.05" fill="#ff00cf" fill-opacity="0.5"/>
<circle cx="214" cy="515.5" r="1.64" fill="#ff00cf" fill-opacity="0.5"/>
<circle cx="216" cy="516.5" r="1.64" fill="#ff00cf" fill-opacity="0.5"/>
<circle cx="218" cy="517.5" r="1.64" fill="#ff00cf" fill-opacity="0.5"/>
<circle cx="215" cy="517.5" r="1.64" fill="#ff00cf" fill-opacity="0.5"/>
<circle cx="217" cy="519" r="1.64" fill="#ff00cf" fill-opacity="0.5"/>
<circle cx="219" cy="519.5" r="1.64" fill="#ff00cf" fill-opacity="0.5"/>
<circle cx="213.5" cy="516.5" r="1.64" fill="#ff00cf" fill-opacity="0.5"/>
<circle cx="218.5" cy="520.5" r="1.64" fill="#ff00cf" fill-opacity="0.5"/>
<circle cx="290.5" cy="540" r="2.05" fill="#84ff00" fill-opacity="0.5"/>
<circle cx="295" cy="540.5" r="2.05" fill="#84ff00" fill-opacity="0.5"/>
<circle cx="289" cy="542.5" r="2.05" fill="#84ff00" fill-opacity="0.5"/>
<circle cx="293.6" cy="544" r="2.05" fill="#84ff00" fill-opacity="0.5"/>
<circle cx="297" cy="544.5" r="2.05" fill="#84ff00" fill-opacity="0.5"/>
<circle cx="301" cy="545.5" r="2.05" fill="#84ff00" fill-opacity="0.5"/>
<circle cx="293.6" cy="550" r="2.05" fill="#84ff00" fill-opacity="0.5"/>
<circle cx="292" cy="544" r="2.05" fill="#84ff00" fill-opacity="0.5"/>
<circle cx="294.5" cy="542.5" r="2.05" fill="#84ff00" fill-opacity="0.5"/>
<circle cx="295.5" cy="546" r="2.05" fill="#84ff00" fill-opacity="0.5"/>
<circle cx="291.5" cy="546" r="2.05" fill="#84ff00" fill-opacity="0.5"/>
<circle cx="298.5" cy="546.5" r="2.05" fill="#84ff00" fill-opacity="0.5"/>
<circle cx="293.6" cy="581" r="2.05" fill="#84ff00" fill-opacity="0.5"/>
<circle cx="219.9" cy="574.9" r="2.05" fill="#84ff00" fill-opacity="0.5"/>
<circle cx="293.6" cy="544" r="1.64" fill="#84ff00" fill-opacity="0.5"/>
<circle cx="228" cy="602.5" r="2.05" fill="#00ff39" fill-opacity="0.5"/>
<circle cx="231" cy="602.5" r="2.05" fill="#00ff39" fill-opacity="0.5"/>
<circle cx="233" cy="604" r="2.05" fill="#00ff39" fill-opacity="0.5"/>
<circle cx="227" cy="604.5" r="2.05" fill="#00ff39" fill-opacity="0.5"/>
<circle cx="229.5" cy="605" r="2.05" fill="#00ff39" fill-opacity="0.5"/>
<circle cx="232" cy="606" r="2.05" fill="#00ff39" fill-opacity="0.5"/>
<circle cx="228.5" cy="607" r="2.05" fill="#00ff39" fill-opacity="0.5"/>
<circle cx="231" cy="607.5" r="2.05" fill="#00ff39" fill-opacity="0.5"/>
<circle cx="226.5" cy="606.5" r="2.05" fill="#00ff39" fill-opacity="0.5"/>
<circle cx="211" cy="602" r="2.05" fill="#00ff39" fill-opacity="0.5"/>
<circle cx="238" cy="609.1" r="2.05" fill="#00ff39" fill-opacity="0.5"/>
<circle cx="231" cy="613.5" r="2.05" fill="#00ff39" fill-opacity="0.5"/>
<circle cx="233" cy="613.5" r="2.05" fill="#00ff39" fill-opacity="0.5"/>
<circle cx="225.3" cy="617.2" r="2.05" fill="#00ff39" fill-opacity="0.5"/>
<circle cx="243" cy="650.6" r="2.05" fill="#00ff39" fill-opacity="0.5"/>
<circle cx="147.1" cy="586.9" r="2.05" fill="#00ff39" fill-opacity="0.5"/>
<circle cx="227" cy="604.5" r="1.64" fill="#00ff39" fill-opacity="0.5"/>
<circle cx="229.5" cy="605" r="1.64" fill="#00ff39" fill-opacity="0.5"/>
<circle cx="228.5" cy="607" r="1.64" fill="#00ff39" fill-opacity="0.5"/>
<circle cx="263" cy="612" r="2.05" fill="#ff0000" fill-opacity="0.5"/>
<circle cx="272.3" cy="630.6" r="2.05" fill="#ff0000" fill-opacity="0.5"/>
<circle cx="272.6" cy="635.6" r="2.05" fill="#ff0000" fill-opacity="0.5"/>
<circle cx="270" cy="639.7" r="2.05" fill="#ff0000" fill-opacity="0.5"/>
<circle cx="266.5" cy="640.6" r="2.05" fill="#ff0000" fill-opacity="0.5"/>
<circle cx="263.2" cy="643.8" r="2.05" fill="#ff0000" fill-opacity="0.5"/>
<circle cx="264" cy="642.5" r="2.05" fill="#ff0000" fill-opacity="0.5"/>
<circle cx="262.5" cy="644.5" r="2.05" fill="#ff0000" fill-opacity="0.5"/>
<circle cx="261.8" cy="641.8" r="2.05" fill="#ff0000" fill-opacity="0.5"/>
<circle cx="257.6" cy="647.7" r="2.05" fill="#ff0000" fill-opacity="0.5"/>
<circle cx="253.9" cy="651.4" r="2.05" fill="#ff0000" fill-opacity="0.5"/>
<circle cx="236.7" cy="665.4" r="2.05" fill="#ff0000" fill-opacity="0.5"/>
<circle cx="264" cy="642.5" r="1.64" fill="#ff0000" fill-opacity="0.5"/>
<circle cx="251" cy="651.7" r="2.05" fill="#ffbd00" fill-opacity="0.5"/>
<circle cx="236.9" cy="637.4" r="2.05" fill="#ffbd00" fill-opacity="0.5"/>
<circle cx="235" cy="650" r="2.05" fill="#ffbd00" fill-opacity="0.5"/>
<circle cx="241" cy="654.5" r="2.05" fill="#ffbd00" fill-opacity="0.5"/>
<circle cx="242.2" cy="655.3" r="2.05" fill="#ffbd00" fill-opacity="0.5"/>
<circle cx="235.8" cy="657.2" r="2.05" fill="#ffbd00" fill-opacity="0.5"/>
<circle cx="235" cy="659" r="2.05" fill="#ffbd00" fill-opacity="0.5"/>
<circle cx="233.5" cy="661" r="2.05" fill="#ffbd00" fill-opacity="0.5"/>
<circle cx="232" cy="663" r="2.05" fill="#ffbd00" fill-opacity="0.5"/>
<circle cx="230" cy="664.5" r="2.05" fill="#ffbd00" fill-opacity="0.5"/>
<circle cx="228" cy="666" r="2.05" fill="#ffbd00" fill-opacity="0.5"/>
<circle cx="229.5" cy="668" r="2.05" fill="#ffbd00" fill-opacity="0.5"/>
<circle cx="231.5" cy="669" r="2.05" fill="#ffbd00" fill-opacity="0.5"/>
<circle cx="233.5" cy="670" r="2.05" fill="#ffbd00" fill-opacity="0.5"/>
<circle cx="231" cy="671" r="2.05" fill="#ffbd00" fill-opacity="0.5"/>
<circle cx="234" cy="667.5" r="2.05" fill="#ffbd00" fill-opacity="0.5"/>
<circle cx="232.5" cy="665.5" r="2.05" fill="#ffbd00" fill-opacity="0.5"/>
<circle cx="227.5" cy="668.5" r="2.05" fill="#ffbd00" fill-opacity="0.5"/>
<circle cx="223.8" cy="611.7" r="2.05" fill="#ffbd00" fill-opacity="0.5"/>
<circle cx="230.5" cy="666.5" r="2.05" fill="#ffbd00" fill-opacity="0.5"/>
<circle cx="232" cy="668" r="2.05" fill="#ffbd00" fill-opacity="0.5"/>
<circle cx="229" cy="667" r="2.05" fill="#ffbd00" fill-opacity="0.5"/>
<circle cx="233" cy="663.5" r="2.05" fill="#ffbd00" fill-opacity="0.5"/>
<circle cx="231" cy="669.5" r="2.05" fill="#ffbd00" fill-opacity="0.5"/>
<circle cx="228.5" cy="664.5" r="2.05" fill="#ffbd00" fill-opacity="0.5"/>
<circle cx="232" cy="663" r="1.64" fill="#ffbd00" fill-opacity="0.5"/>
<circle cx="230" cy="664.5" r="1.64" fill="#ffbd00" fill-opacity="0.5"/>
<circle cx="228" cy="666" r="1.64" fill="#ffbd00" fill-opacity="0.5"/>
<circle cx="229.5" cy="668" r="1.64" fill="#ffbd00" fill-opacity="0.5"/>
<circle cx="231.5" cy="669" r="1.64" fill="#ffbd00" fill-opacity="0.5"/>
<circle cx="233.5" cy="670" r="1.64" fill="#ffbd00" fill-opacity="0.5"/>
<circle cx="231" cy="671" r="1.64" fill="#ffbd00" fill-opacity="0.5"/>
<circle cx="234" cy="667.5" r="1.64" fill="#ffbd00" fill-opacity="0.5"/>
<circle cx="232.5" cy="665.5" r="1.64" fill="#ffbd00" fill-opacity="0.5"/>
<circle cx="230.5" cy="666.5" r="1.64" fill="#ffbd00" fill-opacity="0.5"/>
<circle cx="232" cy="668" r="1.64" fill="#ffbd00" fill-opacity="0.5"/>
<circle cx="229" cy="667" r="1.64" fill="#ffbd00" fill-opacity="0.5"/>
<circle cx="233" cy="663.5" r="1.64" fill="#ffbd00" fill-opacity="0.5"/>
<circle cx="231" cy="669.5" r="1.64" fill="#ffbd00" fill-opacity="0.5"/>
<circle cx="228.5" cy="664.5" r="1.64" fill="#ffbd00" fill-opacity="0.5"/>
<circle cx="139.8" cy="539" r="2.05" fill="#7200ff" fill-opacity="0.5"/>
<circle cx="148.3" cy="570.5" r="2.05" fill="#7200ff" fill-opacity="0.5"/>
<circle cx="128.7" cy="577.6" r="2.05" fill="#7200ff" fill-opacity="0.5"/>
<circle cx="131.4" cy="580.5" r="2.05" fill="#7200ff" fill-opacity="0.5"/>
<circle cx="137.8" cy="575.5" r="2.05" fill="#7200ff" fill-opacity="0.5"/>
<circle cx="135.7" cy="578.8" r="2.05" fill="#7200ff" fill-opacity="0.5"/>
<circle cx="150.9" cy="584.9" r="2.05" fill="#7200ff" fill-opacity="0.5"/>
<circle cx="154.1" cy="584.3" r="2.05" fill="#7200ff" fill-opacity="0.5"/>
<circle cx="148.9" cy="593.1" r="2.05" fill="#7200ff" fill-opacity="0.5"/>
<circle cx="141" cy="587" r="2.05" fill="#7200ff" fill-opacity="0.5"/>
<circle cx="143.3" cy="575" r="2.05" fill="#7200ff" fill-opacity="0.5"/>
<circle cx="143.5" cy="577" r="2.05" fill="#7200ff" fill-opacity="0.5"/>
<circle cx="142" cy="578.5" r="2.05" fill="#7200ff" fill-opacity="0.5"/>
<circle cx="144" cy="579.5" r="2.05" fill="#7200ff" fill-opacity="0.5"/>
<circle cx="140" cy="580" r="2.05" fill="#7200ff" fill-opacity="0.5"/>
<circle cx="142.5" cy="581" r="2.05" fill="#7200ff" fill-opacity="0.5"/>
<circle cx="139" cy="582" r="2.05" fill="#7200ff" fill-opacity="0.5"/>
<circle cx="141" cy="583" r="2.05" fill="#7200ff" fill-opacity="0.5"/>
<circle cx="140" cy="584.5" r="2.05" fill="#7200ff" fill-opacity="0.5"/>
<circle cx="143" cy="582.5" r="2.05" fill="#7200ff" fill-opacity="0.5"/>
<circle cx="228.7" cy="575.2" r="2.05" fill="#7200ff" fill-opacity="0.5"/>
<circle cx="142" cy="578.5" r="1.64" fill="#7200ff" fill-opacity="0.5"/>
<circle cx="144" cy="579.5" r="1.64" fill="#7200ff" fill-opacity="0.5"/>
<circle cx="140" cy="580" r="1.64" fill="#7200ff" fill-opacity="0.5"/>
<circle cx="142.5" cy="581" r="1.64" fill="#7200ff" fill-opacity="0.5"/>
<circle cx="141" cy="583" r="1.64" fill="#7200ff" fill-opacity="0.5"/>
<circle cx="148.5" cy="601.5" r="2.05" fill="#004bff" fill-opacity="0.5"/>
<circle cx="150.5" cy="602" r="2.05" fill="#004bff" fill-opacity="0.5"/>
<circle cx="147.5" cy="603.5" r="2.05" fill="#004bff" fill-opacity="0.5"/>
<circle cx="149.5" cy="604" r="2.05" fill="#004bff" fill-opacity="0.5"/>
<circle cx="151.5" cy="604.5" r="2.05" fill="#004bff" fill-opacity="0.5"/>
<circle cx="148.5" cy="605.5" r="2.05" fill="#004bff" fill-opacity="0.5"/>
<circle cx="150" cy="606" r="2.05" fill="#004bff" fill-opacity="0.5"/>
<circle cx="141.3" cy="598.9" r="2.05" fill="#004bff" fill-opacity="0.5"/>
<circle cx="142.5" cy="601.2" r="2.05" fill="#004bff" fill-opacity="0.5"/>
<circle cx="143.3" cy="603.8" r="2.05" fill="#004bff" fill-opacity="0.5"/>
<circle cx="157.9" cy="604.7" r="2.05" fill="#004bff" fill-opacity="0.5"/>
<circle cx="164.3" cy="605.9" r="2.05" fill="#004bff" fill-opacity="0.5"/>
<circle cx="183.8" cy="597.7" r="2.05" fill="#004bff" fill-opacity="0.5"/>
<circle cx="234.9" cy="600.3" r="2.05" fill="#004bff" fill-opacity="0.5"/>
<circle cx="236.6" cy="605.3" r="2.05" fill="#004bff" fill-opacity="0.5"/>
<circle cx="149.5" cy="604" r="1.64" fill="#004bff" fill-opacity="0.5"/>
<circle cx="151.5" cy="604.5" r="1.64" fill="#004bff" fill-opacity="0.5"/>
<circle cx="148.5" cy="605.5" r="1.64" fill="#004bff" fill-opacity="0.5"/>
<text x="102" y="447.7" font-size="5.4" fill="#000000">Angry</text>
<text x="227.3" y="519.4" font-size="5.4" fill="#000000">Surprised</text>
<text x="300.8" y="545.8" font-size="5.4" fill="#000000">Happy</text>
<text x="234.6" y="606.5" font-size="5.4" fill="#000000">Sad</text>
<text x="237" y="670.7" font-size="5.4" fill="#000000">Calm</text>
<text x="273.7" y="635.6" font-size="5.4" fill="#000000">Neutral</text>
<text x="145" y="577.9" font-size="5.4" fill="#000000">Disgust</text>
<text x="153.8" y="601.5" font-size="5.4" fill="#000000">Anxious</text>
<rect x="20.6" y="436.3" width="309.9" height="307.2" fill="none" stroke="#000" stroke-width="0.5"/>
<line x1="34.2" y1="743.5" x2="34.2" y2="744.9" stroke="#000" stroke-width="0.45"/>
<text x="34.2" y="751.7" font-size="5.4" fill="#000000" text-anchor="middle">0.0</text>
<line x1="87.14" y1="743.5" x2="87.14" y2="744.9" stroke="#000" stroke-width="0.45"/>
<text x="87.14" y="751.7" font-size="5.4" fill="#000000" text-anchor="middle">0.2</text>
<line x1="140.08" y1="743.5" x2="140.08" y2="744.9" stroke="#000" stroke-width="0.45"/>
<text x="140.08" y="751.7" font-size="5.4" fill="#000000" text-anchor="middle">0.4</text>
<line x1="193.02" y1="743.5" x2="193.02" y2="744.9" stroke="#000" stroke-width="0.45"/>
<text x="193.02" y="751.7" font-size="5.4" fill="#000000" text-anchor="middle">0.6</text>
<line x1="245.96" y1="743.5" x2="245.96" y2="744.9" stroke="#000" stroke-width="0.45"/>
<text x="245.96" y="751.7" font-size="5.4" fill="#000000" text-anchor="middle">0.8</text>
<line x1="298.9" y1="743.5" x2="298.9" y2="744.9" stroke="#000" stroke-width="0.45"/>
<text x="298.9" y="751.7" font-size="5.4" fill="#000000" text-anchor="middle">1.0</text>
<line x1="19.2" y1="729.8" x2="20.6" y2="729.8" stroke="#000" stroke-width="0.45"/>
<text x="17" y="732.2" font-size="5.4" fill="#000000" text-anchor="end">0.0</text>
<line x1="19.2" y1="668.4" x2="20.6" y2="668.4" stroke="#000" stroke-width="0.45"/>
<text x="17" y="670.8" font-size="5.4" fill="#000000" text-anchor="end">0.2</text>
<line x1="19.2" y1="607" x2="20.6" y2="607" stroke="#000" stroke-width="0.45"/>
<text x="17" y="609.4" font-size="5.4" fill="#000000" text-anchor="end">0.4</text>
<line x1="19.2" y1="545.6" x2="20.6" y2="545.6" stroke="#000" stroke-width="0.45"/>
<text x="17" y="548" font-size="5.4" fill="#000000" text-anchor="end">0.6</text>
<line x1="19.2" y1="484.2" x2="20.6" y2="484.2" stroke="#000" stroke-width="0.45"/>
<text x="17" y="486.6" font-size="5.4" fill="#000000" text-anchor="end">0.8</text>
<text x="175.55" y="759.8" font-size="5.4" fill="#000000" text-anchor="middle">Valence</text>
<text transform="translate(4.6,589.9) rotate(-90)" font-size="5.4" fill="#000000" text-anchor="middle">Dominance</text>
<text x="175.55" y="432.7" font-size="6.65" fill="#000000" text-anchor="middle">Predictions vs. labels (test set)</text>
<text x="303.9" y="445.7" font-size="5.4" fill="#000000" text-anchor="middle">Emotions</text>
<circle cx="289" cy="455" r="1.95" fill="#ff0000"/>
<text x="298.8" y="456.9" font-size="5.4" fill="#000000">Neutral</text>
<circle cx="289" cy="466.11" r="1.95" fill="#ffbd00"/>
<text x="298.8" y="468.01" font-size="5.4" fill="#000000">Calm</text>
<circle cx="289" cy="477.22" r="1.95" fill="#84ff00"/>
<text x="298.8" y="479.12" font-size="5.4" fill="#000000">Happy</text>
<circle cx="289" cy="488.33" r="1.95" fill="#00ff39"/>
<text x="298.8" y="490.23" font-size="5.4" fill="#000000">Sad</text>
<circle cx="289" cy="499.44" r="1.95" fill="#00fff6"/>
<text x="298.8" y="501.34" font-size="5.4" fill="#000000">Angry</text>
<circle cx="289" cy="510.55" r="1.95" fill="#004bff"/>
<text x="298.8" y="512.45" font-size="5.4" fill="#000000">Anxious</text>
<circle cx="289" cy="521.66" r="1.95" fill="#7200ff"/>
<text x="298.8" y="523.56" font-size="5.4" fill="#000000">Disgust</text>
<circle cx="289" cy="532.77" r="1.95" fill="#ff00cf"/>
<text x="298.8" y="534.67" font-size="5.4" fill="#000000">Surprised</text>
</g>
<g>
<line x1="382.5" y1="443.4" x2="382.5" y2="743.5" stroke="#000" stroke-width="0.5"/>
<line x1="368.5" y1="730.2" x2="672" y2="730.2" stroke="#000" stroke-width="0.5"/>
<circle cx="651" cy="456.5" r="2" fill="#00fff6" fill-opacity="0.5"/>
<circle cx="654" cy="456" r="2" fill="#00fff6" fill-opacity="0.5"/>
<circle cx="657" cy="457" r="2" fill="#00fff6" fill-opacity="0.5"/>
<circle cx="659" cy="458.5" r="2" fill="#00fff6" fill-opacity="0.5"/>
<circle cx="650" cy="459" r="2" fill="#00fff6" fill-opacity="0.5"/>
<circle cx="653" cy="459.5" r="2" fill="#00fff6" fill-opacity="0.5"/>
<circle cx="656" cy="460" r="2" fill="#00fff6" fill-opacity="0.5"/>
<circle cx="649" cy="461.5" r="2" fill="#00fff6" fill-opacity="0.5"/>
<circle cx="652" cy="462" r="2" fill="#00fff6" fill-opacity="0.5"/>
<circle cx="655" cy="461.5" r="2" fill="#00fff6" fill-opacity="0.5"/>
<circle cx="651.5" cy="464" r="2" fill="#00fff6" fill-opacity="0.5"/>
<circle cx="653.5" cy="463.5" r="2" fill="#00fff6" fill-opacity="0.5"/>
<circle cx="619" cy="473.9" r="2" fill="#00fff6" fill-opacity="0.5"/>
<circle cx="642.4" cy="471.9" r="2" fill="#00fff6" fill-opacity="0.5"/>
<circle cx="543" cy="553" r="2" fill="#00fff6" fill-opacity="0.5"/>
<circle cx="653" cy="459.5" r="1.6" fill="#00fff6" fill-opacity="0.5"/>
<circle cx="652" cy="462" r="1.6" fill="#00fff6" fill-opacity="0.5"/>
<circle cx="655" cy="461.5" r="1.6" fill="#00fff6" fill-opacity="0.5"/>
<circle cx="567.2" cy="528.7" r="2" fill="#ff00cf" fill-opacity="0.5"/>
<circle cx="572.1" cy="529" r="2" fill="#ff00cf" fill-opacity="0.5"/>
<circle cx="574.5" cy="525.5" r="2" fill="#ff00cf" fill-opacity="0.5"/>
<circle cx="576.8" cy="523.3" r="2" fill="#ff00cf" fill-opacity="0.5"/>
<circle cx="578" cy="522.8" r="2" fill="#ff00cf" fill-opacity="0.5"/>
<circle cx="579" cy="522" r="2" fill="#ff00cf" fill-opacity="0.5"/>
<circle cx="580.5" cy="521.5" r="2" fill="#ff00cf" fill-opacity="0.5"/>
<circle cx="582" cy="521" r="2" fill="#ff00cf" fill-opacity="0.5"/>
<circle cx="583" cy="520.8" r="2" fill="#ff00cf" fill-opacity="0.5"/>
<circle cx="584" cy="520.5" r="2" fill="#ff00cf" fill-opacity="0.5"/>
<circle cx="586.5" cy="519.5" r="2" fill="#ff00cf" fill-opacity="0.5"/>
<circle cx="588.5" cy="518.5" r="2" fill="#ff00cf" fill-opacity="0.5"/>
<circle cx="590.5" cy="518.5" r="2" fill="#ff00cf" fill-opacity="0.5"/>
<circle cx="593.3" cy="518.4" r="2" fill="#ff00cf" fill-opacity="0.5"/>
<circle cx="576" cy="524.5" r="2" fill="#ff00cf" fill-opacity="0.5"/>
<circle cx="578.5" cy="523" r="2" fill="#ff00cf" fill-opacity="0.5"/>
<circle cx="581" cy="521.8" r="2" fill="#ff00cf" fill-opacity="0.5"/>
<circle cx="583.5" cy="521" r="2" fill="#ff00cf" fill-opacity="0.5"/>
<circle cx="576.8" cy="523.3" r="1.6" fill="#ff00cf" fill-opacity="0.5"/>
<circle cx="578" cy="522.8" r="1.6" fill="#ff00cf" fill-opacity="0.5"/>
<circle cx="579" cy="522" r="1.6" fill="#ff00cf" fill-opacity="0.5"/>
<circle cx="580.5" cy="521.5" r="1.6" fill="#ff00cf" fill-opacity="0.5"/>
<circle cx="582" cy="521" r="1.6" fill="#ff00cf" fill-opacity="0.5"/>
<circle cx="583" cy="520.8" r="1.6" fill="#ff00cf" fill-opacity="0.5"/>
<circle cx="584" cy="520.5" r="1.6" fill="#ff00cf" fill-opacity="0.5"/>
<circle cx="576" cy="524.5" r="1.6" fill="#ff00cf" fill-opacity="0.5"/>
<circle cx="578.5" cy="523" r="1.6" fill="#ff00cf" fill-opacity="0.5"/>
<circle cx="581" cy="521.8" r="1.6" fill="#ff00cf" fill-opacity="0.5"/>
<circle cx="583.5" cy="521" r="1.6" fill="#ff00cf" fill-opacity="0.5"/>
<circle cx="544.5" cy="550.8" r="2" fill="#84ff00" fill-opacity="0.5"/>
<circle cx="546" cy="549.5" r="2" fill="#84ff00" fill-opacity="0.5"/>
<circle cx="547.5" cy="548.5" r="2" fill="#84ff00" fill-opacity="0.5"/>
<circle cx="549" cy="547.5" r="2" fill="#84ff00" fill-opacity="0.5"/>
<circle cx="550.5" cy="546.5" r="2" fill="#84ff00" fill-opacity="0.5"/>
<circle cx="552" cy="545.5" r="2" fill="#84ff00" fill-opacity="0.5"/>
<circle cx="553.5" cy="544.8" r="2" fill="#84ff00" fill-opacity="0.5"/>
<circle cx="555.6" cy="543.8" r="2" fill="#84ff00" fill-opacity="0.5"/>
<circle cx="545.5" cy="550" r="2" fill="#84ff00" fill-opacity="0.5"/>
<circle cx="548" cy="548.2" r="2" fill="#84ff00" fill-opacity="0.5"/>
<circle cx="551" cy="546.2" r="2" fill="#84ff00" fill-opacity="0.5"/>
<circle cx="549.8" cy="554.2" r="2" fill="#84ff00" fill-opacity="0.5"/>
<circle cx="559.1" cy="579.1" r="2" fill="#84ff00" fill-opacity="0.5"/>
<circle cx="506.6" cy="585.9" r="2" fill="#84ff00" fill-opacity="0.5"/>
<circle cx="546" cy="549.5" r="1.6" fill="#84ff00" fill-opacity="0.5"/>
<circle cx="547.5" cy="548.5" r="1.6" fill="#84ff00" fill-opacity="0.5"/>
<circle cx="549" cy="547.5" r="1.6" fill="#84ff00" fill-opacity="0.5"/>
<circle cx="550.5" cy="546.5" r="1.6" fill="#84ff00" fill-opacity="0.5"/>
<circle cx="545.5" cy="550" r="1.6" fill="#84ff00" fill-opacity="0.5"/>
<circle cx="548" cy="548.2" r="1.6" fill="#84ff00" fill-opacity="0.5"/>
<circle cx="551" cy="546.2" r="1.6" fill="#84ff00" fill-opacity="0.5"/>
<circle cx="548.9" cy="601" r="2" fill="#004bff" fill-opacity="0.5"/>
<circle cx="545.8" cy="609.4" r="2" fill="#004bff" fill-opacity="0.5"/>
<circle cx="561.5" cy="608" r="2" fill="#004bff" fill-opacity="0.5"/>
<circle cx="564" cy="606.5" r="2" fill="#004bff" fill-opacity="0.5"/>
<circle cx="568.5" cy="609.2" r="2" fill="#004bff" fill-opacity="0.5"/>
<circle cx="579.6" cy="602.4" r="2" fill="#004bff" fill-opacity="0.5"/>
<circle cx="580.8" cy="605.1" r="2" fill="#004bff" fill-opacity="0.5"/>
<circle cx="574.4" cy="603.9" r="2" fill="#004bff" fill-opacity="0.5"/>
<circle cx="570" cy="605" r="2" fill="#004bff" fill-opacity="0.5"/>
<circle cx="572" cy="604.5" r="2" fill="#004bff" fill-opacity="0.5"/>
<circle cx="574" cy="605.5" r="2" fill="#004bff" fill-opacity="0.5"/>
<circle cx="571" cy="607" r="2" fill="#004bff" fill-opacity="0.5"/>
<circle cx="573" cy="607.5" r="2" fill="#004bff" fill-opacity="0.5"/>
<circle cx="570.5" cy="608.5" r="2" fill="#004bff" fill-opacity="0.5"/>
<circle cx="572.5" cy="609" r="2" fill="#004bff" fill-opacity="0.5"/>
<circle cx="569.5" cy="606.5" r="2" fill="#004bff" fill-opacity="0.5"/>
<circle cx="491.1" cy="603.6" r="2" fill="#004bff" fill-opacity="0.5"/>
<circle cx="494.2" cy="608.4" r="2" fill="#004bff" fill-opacity="0.5"/>
<circle cx="572" cy="604.5" r="1.6" fill="#004bff" fill-opacity="0.5"/>
<circle cx="571" cy="607" r="1.6" fill="#004bff" fill-opacity="0.5"/>
<circle cx="573" cy="607.5" r="1.6" fill="#004bff" fill-opacity="0.5"/>
<circle cx="570.5" cy="608.5" r="1.6" fill="#004bff" fill-opacity="0.5"/>
<circle cx="569.5" cy="606.5" r="1.6" fill="#004bff" fill-opacity="0.5"/>
<circle cx="498.9" cy="574.6" r="2" fill="#7200ff" fill-opacity="0.5"/>
<circle cx="485.6" cy="596.6" r="2" fill="#7200ff" fill-opacity="0.5"/>
<circle cx="509.2" cy="584.2" r="2" fill="#7200ff" fill-opacity="0.5"/>
<circle cx="508.6" cy="580.1" r="2" fill="#7200ff" fill-opacity="0.5"/>
<circle cx="505.9" cy="578.7" r="2" fill="#7200ff" fill-opacity="0.5"/>
<circle cx="496.4" cy="590.4" r="2" fill="#7200ff" fill-opacity="0.5"/>
<circle cx="497.5" cy="588.5" r="2" fill="#7200ff" fill-opacity="0.5"/>
<circle cx="499" cy="587" r="2" fill="#7200ff" fill-opacity="0.5"/>
<circle cx="500.5" cy="585.5" r="2" fill="#7200ff" fill-opacity="0.5"/>
<circle cx="502" cy="584" r="2" fill="#7200ff" fill-opacity="0.5"/>
<circle cx="503.5" cy="582.5" r="2" fill="#7200ff" fill-opacity="0.5"/>
<circle cx="505" cy="581" r="2" fill="#7200ff" fill-opacity="0.5"/>
<circle cx="506.3" cy="579.3" r="2" fill="#7200ff" fill-opacity="0.5"/>
<circle cx="498.5" cy="589" r="2" fill="#7200ff" fill-opacity="0.5"/>
<circle cx="501" cy="586.5" r="2" fill="#7200ff" fill-opacity="0.5"/>
<circle cx="503" cy="583.5" r="2" fill="#7200ff" fill-opacity="0.5"/>
<circle cx="500" cy="584" r="2" fill="#7200ff" fill-opacity="0.5"/>
<circle cx="531.4" cy="543.4" r="2" fill="#7200ff" fill-opacity="0.5"/>
<circle cx="499" cy="587" r="1.6" fill="#7200ff" fill-opacity="0.5"/>
<circle cx="500.5" cy="585.5" r="1.6" fill="#7200ff" fill-opacity="0.5"/>
<circle cx="502" cy="584" r="1.6" fill="#7200ff" fill-opacity="0.5"/>
<circle cx="501" cy="586.5" r="1.6" fill="#7200ff" fill-opacity="0.5"/>
<circle cx="500" cy="584" r="1.6" fill="#7200ff" fill-opacity="0.5"/>
<circle cx="473.4" cy="612" r="2" fill="#00ff39" fill-opacity="0.5"/>
<circle cx="474.5" cy="611" r="2" fill="#00ff39" fill-opacity="0.5"/>
<circle cx="475.5" cy="610" r="2" fill="#00ff39" fill-opacity="0.5"/>
<circle cx="476.5" cy="609" r="2" fill="#00ff39" fill-opacity="0.5"/>
<circle cx="477.5" cy="608" r="2" fill="#00ff39" fill-opacity="0.5"/>
<circle cx="478.5" cy="607" r="2" fill="#00ff39" fill-opacity="0.5"/>
<circle cx="479.6" cy="606.3" r="2" fill="#00ff39" fill-opacity="0.5"/>
<circle cx="474" cy="611.5" r="2" fill="#00ff39" fill-opacity="0.5"/>
<circle cx="476" cy="609.5" r="2" fill="#00ff39" fill-opacity="0.5"/>
<circle cx="478" cy="607.5" r="2" fill="#00ff39" fill-opacity="0.5"/>
<circle cx="468" cy="617.1" r="2" fill="#00ff39" fill-opacity="0.5"/>
<circle cx="463.2" cy="620.3" r="2" fill="#00ff39" fill-opacity="0.5"/>
<circle cx="468.3" cy="615.3" r="2" fill="#00ff39" fill-opacity="0.5"/>
<circle cx="504.5" cy="590.4" r="2" fill="#00ff39" fill-opacity="0.5"/>
<circle cx="424.2" cy="652.8" r="2" fill="#00ff39" fill-opacity="0.5"/>
<circle cx="474.5" cy="611" r="1.6" fill="#00ff39" fill-opacity="0.5"/>
<circle cx="475.5" cy="610" r="1.6" fill="#00ff39" fill-opacity="0.5"/>
<circle cx="476.5" cy="609" r="1.6" fill="#00ff39" fill-opacity="0.5"/>
<circle cx="477.5" cy="608" r="1.6" fill="#00ff39" fill-opacity="0.5"/>
<circle cx="478.5" cy="607" r="1.6" fill="#00ff39" fill-opacity="0.5"/>
<circle cx="474" cy="611.5" r="1.6" fill="#00ff39" fill-opacity="0.5"/>
<circle cx="476" cy="609.5" r="1.6" fill="#00ff39" fill-opacity="0.5"/>
<circle cx="478" cy="607.5" r="1.6" fill="#00ff39" fill-opacity="0.5"/>
<circle cx="441.2" cy="633.5" r="2" fill="#ff0000" fill-opacity="0.5"/>
<circle cx="437.9" cy="635.8" r="2" fill="#ff0000" fill-opacity="0.5"/>
<circle cx="435" cy="638.4" r="2" fill="#ff0000" fill-opacity="0.5"/>
<circle cx="431.5" cy="642.3" r="2" fill="#ff0000" fill-opacity="0.5"/>
<circle cx="430.5" cy="643.5" r="2" fill="#ff0000" fill-opacity="0.5"/>
<circle cx="429.5" cy="644.5" r="2" fill="#ff0000" fill-opacity="0.5"/>
<circle cx="428.5" cy="645.5" r="2" fill="#ff0000" fill-opacity="0.5"/>
<circle cx="427.1" cy="647.5" r="2" fill="#ff0000" fill-opacity="0.5"/>
<circle cx="424.8" cy="649.9" r="2" fill="#ff0000" fill-opacity="0.5"/>
<circle cx="432.5" cy="641" r="2" fill="#ff0000" fill-opacity="0.5"/>
<circle cx="431" cy="642.8" r="2" fill="#ff0000" fill-opacity="0.5"/>
<circle cx="430" cy="644" r="2" fill="#ff0000" fill-opacity="0.5"/>
<circle cx="429" cy="645" r="2" fill="#ff0000" fill-opacity="0.5"/>
<circle cx="428" cy="646.3" r="2" fill="#ff0000" fill-opacity="0.5"/>
<circle cx="426" cy="648.5" r="2" fill="#ff0000" fill-opacity="0.5"/>
<circle cx="468.3" cy="615" r="2" fill="#ff0000" fill-opacity="0.5"/>
<circle cx="412.2" cy="667.6" r="2" fill="#ff0000" fill-opacity="0.5"/>
<circle cx="421.5" cy="653.4" r="2" fill="#ff0000" fill-opacity="0.5"/>
<circle cx="431.5" cy="642.3" r="1.6" fill="#ff0000" fill-opacity="0.5"/>
<circle cx="430.5" cy="643.5" r="1.6" fill="#ff0000" fill-opacity="0.5"/>
<circle cx="429.5" cy="644.5" r="1.6" fill="#ff0000" fill-opacity="0.5"/>
<circle cx="428.5" cy="645.5" r="1.6" fill="#ff0000" fill-opacity="0.5"/>
<circle cx="427.1" cy="647.5" r="1.6" fill="#ff0000" fill-opacity="0.5"/>
<circle cx="431" cy="642.8" r="1.6" fill="#ff0000" fill-opacity="0.5"/>
<circle cx="430" cy="644" r="1.6" fill="#ff0000" fill-opacity="0.5"/>
<circle cx="429" cy="645" r="1.6" fill="#ff0000" fill-opacity="0.5"/>
<circle cx="428" cy="646.3" r="1.6" fill="#ff0000" fill-opacity="0.5"/>
<circle cx="441" cy="640.2" r="2" fill="#ffbd00" fill-opacity="0.5"/>
<circle cx="421.5" cy="654.5" r="2" fill="#ffbd00" fill-opacity="0.5"/>
<circle cx="420" cy="656.5" r="2" fill="#ffbd00" fill-opacity="0.5"/>
<circle cx="418.5" cy="658.5" r="2" fill="#ffbd00" fill-opacity="0.5"/>
<circle cx="417" cy="660.5" r="2" fill="#ffbd00" fill-opacity="0.5"/>
<circle cx="415.5" cy="662.5" r="2" fill="#ffbd00" fill-opacity="0.5"/>
<circle cx="414" cy="664" r="2" fill="#ffbd00" fill-opacity="0.5"/>
<circle cx="412.5" cy="665.5" r="2" fill="#ffbd00" fill-opacity="0.5"/>
<circle cx="411" cy="667.5" r="2" fill="#ffbd00" fill-opacity="0.5"/>
<circle cx="410" cy="669.5" r="2" fill="#ffbd00" fill-opacity="0.5"/>
<circle cx="408.5" cy="670.5" r="2" fill="#ffbd00" fill-opacity="0.5"/>
<circle cx="407" cy="671.5" r="2" fill="#ffbd00" fill-opacity="0.5"/>
<circle cx="405" cy="672.5" r="2" fill="#ffbd00" fill-opacity="0.5"/>
<circle cx="403" cy="672" r="2" fill="#ffbd00" fill-opacity="0.5"/>
<circle cx="405.5" cy="673.5" r="2" fill="#ffbd00" fill-opacity="0.5"/>
<circle cx="409.5" cy="671" r="2" fill="#ffbd00" fill-opacity="0.5"/>
<circle cx="468.8" cy="615.6" r="2" fill="#ffbd00" fill-opacity="0.5"/>
<circle cx="549" cy="547.9" r="2" fill="#ffbd00" fill-opacity="0.5"/>
<circle cx="419" cy="657.5" r="2" fill="#ffbd00" fill-opacity="0.5"/>
<circle cx="416" cy="661.5" r="2" fill="#ffbd00" fill-opacity="0.5"/>
<circle cx="413" cy="665" r="2" fill="#ffbd00" fill-opacity="0.5"/>
<circle cx="410.5" cy="668.5" r="2" fill="#ffbd00" fill-opacity="0.5"/>
<circle cx="406" cy="672" r="2" fill="#ffbd00" fill-opacity="0.5"/>
<circle cx="404" cy="673" r="2" fill="#ffbd00" fill-opacity="0.5"/>
<circle cx="410" cy="669.5" r="1.6" fill="#ffbd00" fill-opacity="0.5"/>
<circle cx="408.5" cy="670.5" r="1.6" fill="#ffbd00" fill-opacity="0.5"/>
<circle cx="407" cy="671.5" r="1.6" fill="#ffbd00" fill-opacity="0.5"/>
<circle cx="405" cy="672.5" r="1.6" fill="#ffbd00" fill-opacity="0.5"/>
<circle cx="403" cy="672" r="1.6" fill="#ffbd00" fill-opacity="0.5"/>
<circle cx="405.5" cy="673.5" r="1.6" fill="#ffbd00" fill-opacity="0.5"/>
<circle cx="409.5" cy="671" r="1.6" fill="#ffbd00" fill-opacity="0.5"/>
<circle cx="410.5" cy="668.5" r="1.6" fill="#ffbd00" fill-opacity="0.5"/>
<circle cx="406" cy="672" r="1.6" fill="#ffbd00" fill-opacity="0.5"/>
<circle cx="404" cy="673" r="1.6" fill="#ffbd00" fill-opacity="0.5"/>
<text x="662.7" y="453.6" font-size="5.3" fill="#000000">Angry</text>
<text x="586.8" y="524.6" font-size="5.3" fill="#000000">Surprised</text>
<text x="556.8" y="550.4" font-size="5.3" fill="#000000">Happy</text>
<text x="581.1" y="605.3" font-size="5.3" fill="#000000">Anxious</text>
<text x="511.5" y="581.6" font-size="5.3" fill="#000000">Disgust</text>
<text x="485.7" y="609.8" font-size="5.3" fill="#000000">Sad</text>
<text x="443.1" y="638.4" font-size="5.3" fill="#000000">Neutral</text>
<text x="415.6" y="672.6" font-size="5.3" fill="#000000">Calm</text>
<rect x="368.5" y="443.4" width="303.5" height="300.1" fill="none" stroke="#000" stroke-width="0.5"/>
<line x1="382.6" y1="743.5" x2="382.6" y2="744.9" stroke="#000" stroke-width="0.45"/>
<text x="382.6" y="751.7" font-size="5.3" fill="#000000" text-anchor="middle">0.0</text>
<line x1="446.12" y1="743.5" x2="446.12" y2="744.9" stroke="#000" stroke-width="0.45"/>
<text x="446.12" y="751.7" font-size="5.3" fill="#000000" text-anchor="middle">0.2</text>
<line x1="509.64" y1="743.5" x2="509.64" y2="744.9" stroke="#000" stroke-width="0.45"/>
<text x="509.64" y="751.7" font-size="5.3" fill="#000000" text-anchor="middle">0.4</text>
<line x1="573.16" y1="743.5" x2="573.16" y2="744.9" stroke="#000" stroke-width="0.45"/>
<text x="573.16" y="751.7" font-size="5.3" fill="#000000" text-anchor="middle">0.6</text>
<line x1="636.68" y1="743.5" x2="636.68" y2="744.9" stroke="#000" stroke-width="0.45"/>
<text x="636.68" y="751.7" font-size="5.3" fill="#000000" text-anchor="middle">0.8</text>
<line x1="367.1" y1="729.7" x2="368.5" y2="729.7" stroke="#000" stroke-width="0.45"/>
<text x="364.9" y="732.1" font-size="5.3" fill="#000000" text-anchor="end">0.0</text>
<line x1="367.1" y1="669.7" x2="368.5" y2="669.7" stroke="#000" stroke-width="0.45"/>
<text x="364.9" y="672.1" font-size="5.3" fill="#000000" text-anchor="end">0.2</text>
<line x1="367.1" y1="609.7" x2="368.5" y2="609.7" stroke="#000" stroke-width="0.45"/>
<text x="364.9" y="612.1" font-size="5.3" fill="#000000" text-anchor="end">0.4</text>
<line x1="367.1" y1="549.7" x2="368.5" y2="549.7" stroke="#000" stroke-width="0.45"/>
<text x="364.9" y="552.1" font-size="5.3" fill="#000000" text-anchor="end">0.6</text>
<line x1="367.1" y1="489.7" x2="368.5" y2="489.7" stroke="#000" stroke-width="0.45"/>
<text x="364.9" y="492.1" font-size="5.3" fill="#000000" text-anchor="end">0.8</text>
<text x="520.25" y="760" font-size="5.3" fill="#000000" text-anchor="middle">Arousal</text>
<text transform="translate(353.4,593.45) rotate(-90)" font-size="5.3" fill="#000000" text-anchor="middle">Dominance</text>
<text x="520.25" y="439.7" font-size="6.5" fill="#000000" text-anchor="middle">Predictions vs. labels (test set)</text>
<text x="646.8" y="551.7" font-size="5.3" fill="#000000" text-anchor="middle">Emotions</text>
<circle cx="631.9" cy="561" r="1.95" fill="#ff0000"/>
<text x="641.4" y="562.9" font-size="5.3" fill="#000000">Neutral</text>
<circle cx="631.9" cy="571.87" r="1.95" fill="#ffbd00"/>
<text x="641.4" y="573.77" font-size="5.3" fill="#000000">Calm</text>
<circle cx="631.9" cy="582.74" r="1.95" fill="#84ff00"/>
<text x="641.4" y="584.64" font-size="5.3" fill="#000000">Happy</text>
<circle cx="631.9" cy="593.61" r="1.95" fill="#00ff39"/>
<text x="641.4" y="595.51" font-size="5.3" fill="#000000">Sad</text>
<circle cx="631.9" cy="604.48" r="1.95" fill="#00fff6"/>
<text x="641.4" y="606.38" font-size="5.3" fill="#000000">Angry</text>
<circle cx="631.9" cy="615.35" r="1.95" fill="#004bff"/>
<text x="641.4" y="617.25" font-size="5.3" fill="#000000">Anxious</text>
<circle cx="631.9" cy="626.22" r="1.95" fill="#7200ff"/>
<text x="641.4" y="628.12" font-size="5.3" fill="#000000">Disgust</text>
<circle cx="631.9" cy="637.09" r="1.95" fill="#ff00cf"/>
<text x="641.4" y="638.99" font-size="5.3" fill="#000000">Surprised</text>
</g>
<text x="165.3" y="380.6" style="font-family:'Liberation Serif', 'DejaVu Serif', serif" font-size="33" fill="#000" text-anchor="middle">(a)</text>
<text x="514.3" y="380.5" style="font-family:'Liberation Serif', 'DejaVu Serif', serif" font-size="33" fill="#000" text-anchor="middle">(b)</text>
<text x="159.7" y="808.1" style="font-family:'Liberation Serif', 'DejaVu Serif', serif" font-size="33" fill="#000" text-anchor="middle">(c)</text>
<text x="508.4" y="808.1" style="font-family:'Liberation Serif', 'DejaVu Serif', serif" font-size="33" fill="#000" text-anchor="middle">(d)</text>
</svg>
</body></html>
